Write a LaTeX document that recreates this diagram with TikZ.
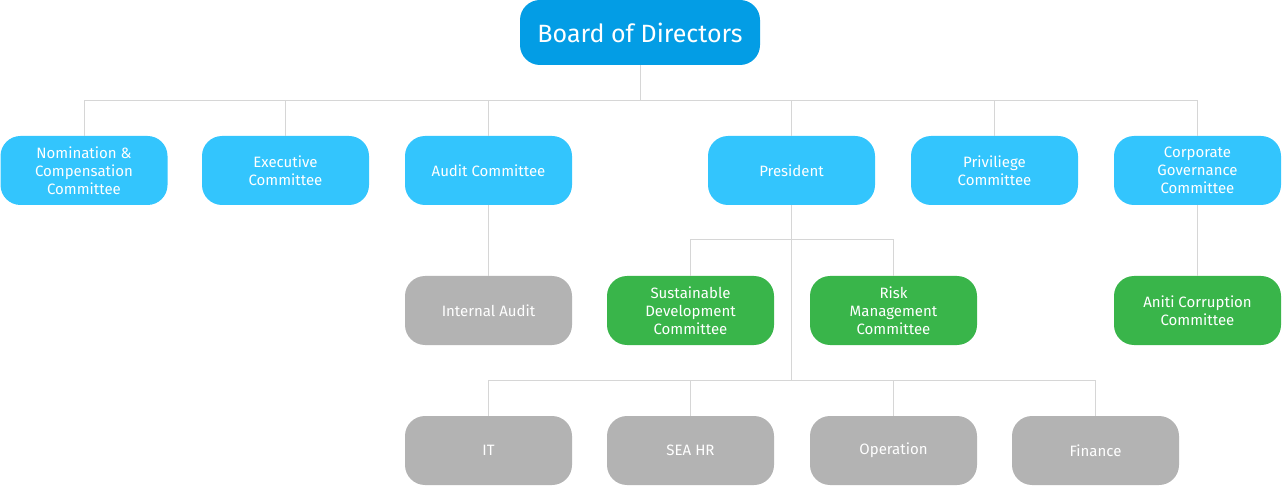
\documentclass[tikz,border=0pt]{standalone}
\usepackage{fontspec}
\setmainfont{Fira Sans}
\definecolor{boardc}{RGB}{3,157,229}
\definecolor{bluec}{RGB}{51,197,253}
\definecolor{greenc}{RGB}{57,181,74}
\definecolor{grayc}{RGB}{179,179,179}
\definecolor{linec}{RGB}{214,214,214}
\tikzset{
  box/.style={rounded corners=20pt, minimum width=167pt, minimum height=69pt, inner sep=0pt, align=center, text=white, font=\fontsize{15}{18}\selectfont},
  bluebox/.style={box, fill=bluec},
  greenbox/.style={box, fill=greenc},
  graybox/.style={box, fill=grayc},
  boardbox/.style={rounded corners=20pt, minimum width=240pt, minimum height=65pt, inner sep=0pt, fill=boardc, text=white, font=\fontsize{25}{30}\selectfont},
  conn/.style={draw=linec, line width=1pt}
}
\begin{document}
\begin{tikzpicture}[x=1pt,y=-1pt]
\useasboundingbox (0,0) rectangle (1282,486);
\node[boardbox] (board) at (640,32.5) {Board of Directors};
% row 1
\node[bluebox] (nom) at (84,170.5) {Nomination \&\\Compensation\\Committee};
\node[bluebox] (exec) at (285.5,170.5) {Executive\\Committee};
\node[bluebox] (audit) at (488.5,170.5) {Audit Committee};
\node[bluebox] (pres) at (791.5,170.5) {President};
\node[bluebox] (priv) at (994.5,170.5) {Priviliege\\Committee};
\node[bluebox] (corp) at (1197.5,170.5) {Corporate\\Governance\\Committee};
% row 2
\node[graybox] (ia) at (488.5,310.5) {Internal Audit};
\node[greenbox] (sus) at (690.5,310.5) {Sustainable\\Development\\Committee};
\node[greenbox] (risk) at (893.5,310.5) {Risk\\Management\\Committee};
\node[greenbox] (anti) at (1197.5,310.5) {Aniti Corruption\\Committee};
% row 3
\node[graybox] (it) at (488.5,450.5) {IT};
\node[graybox] (sea) at (690.5,450.5) {SEA HR};
\node[graybox] (op) at (893.5,450.5) {Operation};
\node[graybox] (fin) at (1095.5,450.5) {Finance};
% connectors
\coordinate (j1) at (640,101);
\coordinate (j2) at (791.5,240);
\coordinate (j3) at (791.5,380);
\draw[conn] (board.south) -- (j1);
\draw[conn] (j1) -| (nom.north);
\draw[conn] (j1) -| (exec.north);
\draw[conn] (j1) -| (audit.north);
\draw[conn] (j1) -| (pres.north);
\draw[conn] (j1) -| (priv.north);
\draw[conn] (j1) -| (corp.north);
\draw[conn] (audit.south) -- (ia.north);
\draw[conn] (corp.south) -- (anti.north);
\draw[conn] (pres.south) -- (j3);
\draw[conn] (j2) -| (sus.north);
\draw[conn] (j2) -| (risk.north);
\draw[conn] (j3) -| (it.north);
\draw[conn] (j3) -| (sea.north);
\draw[conn] (j3) -| (op.north);
\draw[conn] (j3) -| (fin.north);
\end{tikzpicture}
\end{document}
